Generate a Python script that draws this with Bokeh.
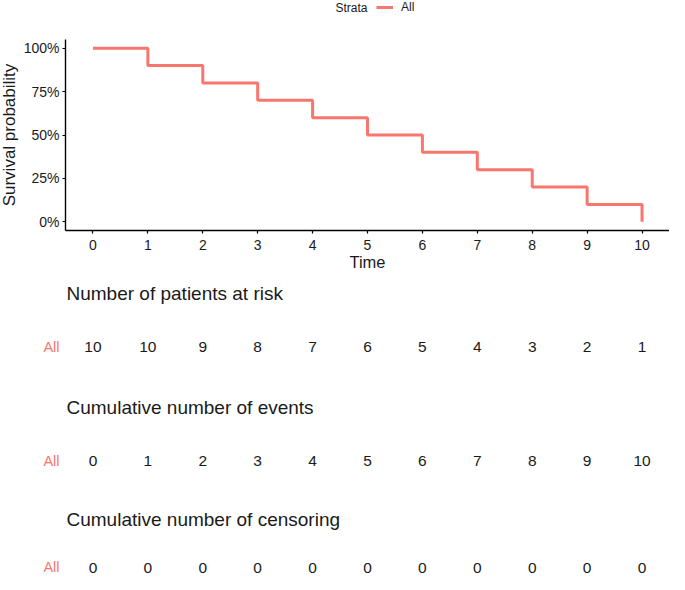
from bokeh.plotting import figure
from bokeh.models import (Range1d, FixedTicker, NumeralTickFormatter, Legend,
                          LegendItem, Label, ColumnDataSource)
from bokeh.layouts import column, row
from bokeh.embed import file_html
from bokeh.resources import INLINE
from bokeh.core.properties import value
import math

# ---------------- data ----------------
time_points = [0, 1, 2, 3, 4, 5, 6, 7, 8, 9, 10]
survival = [1.0, 0.9, 0.8, 0.7, 0.6, 0.5, 0.4, 0.3, 0.2, 0.1, 0.0]
n_risk = [10, 10, 9, 8, 7, 6, 5, 4, 3, 2, 1]
cum_events = [0, 1, 2, 3, 4, 5, 6, 7, 8, 9, 10]
cum_censor = [0, 0, 0, 0, 0, 0, 0, 0, 0, 0, 0]
strata = "All"
legend_title = "Strata"
y_title = "Survival probability"
x_title = "Time"
table_titles = ["Number of patients at risk",
                "Cumulative number of events",
                "Cumulative number of censoring"]
x_ticks = [0, 1, 2, 3, 4, 5, 6, 7, 8, 9, 10]
y_ticks = [0, 0.25, 0.5, 0.75, 1.0]

# ---------------- style ----------------
FONT = "Liberation Sans"
RED = "#F8766D"
INK = "#1a1a1a"

W = 669
LW = 19                                   # strip holding the y title
LEFT, RIGHT = 65, 0
HEAD, PANEL, BOT1 = 39, 191, 46          # legend strip, panel, axis area
FRAME1 = HEAD + PANEL
H1 = FRAME1 + BOT1
H2 = 574 - H1
Y0, Y1 = -0.05, 1.05
Y_TOP = Y1 + HEAD * (Y1 - Y0) / PANEL     # frame extends above the panel for the legend
yr = Range1d(Y0, Y_TOP)

# ---------------- y title strip ----------------
pl = figure(width=LW, height=H1, title=None,
            x_range=Range1d(0, LW), y_range=yr,
            x_axis_location=None, y_axis_location=None,
            output_backend="svg", toolbar_location=None,
            min_border=0, min_border_left=0, min_border_right=0,
            min_border_top=0, min_border_bottom=0)
pl.xgrid.visible = False
pl.ygrid.visible = False
pl.outline_line_color = None
pl.text(x=[8.5], y=[(Y0 + Y1) / 2], text=[y_title], angle=math.pi / 2,
        text_align="center", text_baseline="middle",
        text_font=value(FONT), text_font_size="17px", text_color=INK)

# ---------------- survival plot ----------------
p1 = figure(width=W - LW, height=H1, title=None,
            x_range=Range1d(-0.5, 10.5), y_range=yr,
            output_backend="svg", toolbar_location=None,
            min_border=0, min_border_left=LEFT - LW, min_border_right=RIGHT,
            min_border_top=0, min_border_bottom=BOT1)
p1.xgrid.visible = False
p1.ygrid.visible = False
p1.outline_line_color = None

r = p1.step(x=time_points, y=survival, mode="after",
            line_color=RED, line_width=3)

p1.xaxis.ticker = FixedTicker(ticks=x_ticks)
p1.yaxis.ticker = FixedTicker(ticks=y_ticks)
p1.yaxis.formatter = NumeralTickFormatter(format="0%")
p1.yaxis.bounds = (Y0, Y1)
p1.xaxis.axis_label = x_title
for ax in p1.axis:
    ax.axis_line_color = "black"
    ax.axis_line_width = 1.4
    ax.major_tick_line_color = "black"
    ax.major_tick_line_width = 1.2
    ax.major_tick_out = 3
    ax.major_tick_in = 0
    ax.minor_tick_out = 0
    ax.minor_tick_in = 0
    ax.major_label_text_font = FONT
    ax.major_label_text_font_size = "14px"
    ax.major_label_text_color = INK
    ax.axis_label_text_font = FONT
    ax.axis_label_text_font_size = "16.5px"
    ax.axis_label_text_font_style = "normal"
    ax.axis_label_text_color = INK
p1.xaxis.major_label_standoff = 6
p1.xaxis.axis_label_standoff = 0
p1.yaxis.major_label_standoff = 3

leg = Legend(items=[LegendItem(label=strata, renderers=[r])],
             location=(311, FRAME1 - 14), orientation="horizontal",
             padding=0, margin=0, spacing=0,
             border_line_color=None, background_fill_alpha=0,
             glyph_width=17, glyph_height=14, label_height=14,
             label_standoff=8, label_text_font=FONT,
             label_text_font_size="12px", label_text_color=INK)
p1.add_layout(leg, "center")

p1.add_layout(Label(x=5.0, y=Y_TOP - 7 * (Y1 - Y0) / PANEL,
                    text=legend_title, text_align="right",
                    text_baseline="middle", text_font=FONT,
                    text_font_size="12px", text_color=INK))

# ---------------- risk tables ----------------
p2 = figure(width=W, height=H2, title=None,
            x_range=p1.x_range, y_range=Range1d(H2, 0),
            x_axis_location=None, y_axis_location="left",
            output_backend="svg", toolbar_location=None,
            min_border=0, min_border_left=LEFT, min_border_right=RIGHT,
            min_border_top=0, min_border_bottom=0)
p2.xgrid.visible = False
p2.ygrid.visible = False
p2.outline_line_color = None

title_y = [17, 131, 243]
row_y = [70, 184, 291]

tables = [n_risk, cum_events, cum_censor]
xs, ys, txt = [], [], []
for vals, ry in zip(tables, row_y):
    for t, v in zip(time_points, vals):
        xs.append(t)
        ys.append(ry)
        txt.append(str(v))
src = ColumnDataSource(dict(x=xs, y=ys, text=txt))
p2.text(x="x", y="y", text="text", source=src,
        text_font=value(FONT), text_font_size="15.5px",
        text_align="center", text_baseline="middle", text_color=INK)

tsrc = ColumnDataSource(dict(x=[-0.5] * 3, y=title_y, text=table_titles))
p2.text(x="x", y="y", text="text", source=tsrc, x_offset=1,
        text_font=value(FONT), text_font_size="19px",
        text_align="left", text_baseline="middle", text_color=INK)

ya = p2.yaxis[0]
ya.ticker = FixedTicker(ticks=row_y)
ya.major_label_overrides = {ry: strata for ry in row_y}
ya.axis_line_color = None
ya.major_tick_line_color = None
ya.minor_tick_line_color = None
ya.major_tick_out = 0
ya.major_tick_in = 0
ya.major_label_standoff = 6
ya.major_label_text_font = FONT
ya.major_label_text_font_size = "14.5px"
ya.major_label_text_color = RED

layout = column(row(pl, p1), p2)
open("out.html", "w").write(file_html(layout, INLINE))
